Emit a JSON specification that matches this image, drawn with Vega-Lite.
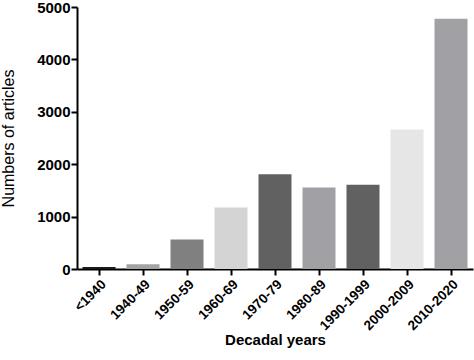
{
  "$schema": "https://vega.github.io/schema/vega-lite/v6.json",
  "width": 396,
  "height": 262,
  "autosize": {"type": "none"},
  "padding": {"left": 77, "top": 7, "right": 1, "bottom": 91},
  "background": "white",
  "config": {
    "view": {"stroke": null},
    "font": "Liberation Sans"
  },
  "data": {
    "values": [
      {"decade": "<1940", "articles": 40},
      {"decade": "1940-49", "articles": 90},
      {"decade": "1950-59", "articles": 565},
      {"decade": "1960-69", "articles": 1173},
      {"decade": "1970-79", "articles": 1806},
      {"decade": "1980-89", "articles": 1553},
      {"decade": "1990-1999", "articles": 1610},
      {"decade": "2000-2009", "articles": 2662},
      {"decade": "2010-2020", "articles": 4778}
    ]
  },
  "mark": {"type": "bar"},
  "encoding": {
    "x": {
      "field": "decade",
      "type": "nominal",
      "sort": null,
      "scale": {"paddingInner": 0.25, "paddingOuter": 0.125},
      "axis": {
        "title": "Decadal years",
        "titleFont": "Liberation Sans",
        "titleFontSize": 15,
        "titleFontWeight": "bold",
        "titleColor": "black",
        "titleY": 63,
        "titleBaseline": "top",
        "labelAngle": -45,
        "labelFont": "Liberation Sans",
        "labelFontSize": 13.5,
        "labelFontWeight": "bold",
        "labelColor": "black",
        "labelPadding": 2,
        "domainColor": "black",
        "domainWidth": 2,
        "tickColor": "black",
        "tickWidth": 2,
        "tickSize": 6,
        "grid": false
      }
    },
    "y": {
      "field": "articles",
      "type": "quantitative",
      "scale": {"domain": [0, 5000], "nice": false},
      "axis": {
        "title": "Numbers of articles",
        "titleFont": "Liberation Sans",
        "titleFontSize": 16,
        "titleFontWeight": "normal",
        "titleColor": "black",
        "titleX": -61,
        "titleBaseline": "bottom",
        "values": [0, 1000, 2000, 3000, 4000, 5000],
        "format": "d",
        "labelFont": "Liberation Sans",
        "labelFontSize": 15,
        "labelFontWeight": "bold",
        "labelColor": "black",
        "labelPadding": 1,
        "domainColor": "black",
        "domainWidth": 2,
        "tickColor": "black",
        "tickWidth": 2,
        "tickSize": 6,
        "grid": false
      }
    },
    "color": {
      "field": "decade",
      "type": "nominal",
      "legend": null,
      "scale": {
        "domain": ["<1940", "1940-49", "1950-59", "1960-69", "1970-79", "1980-89", "1990-1999", "2000-2009", "2010-2020"],
        "range": ["#1a1a1a", "#a3a3a3", "#808080", "#d4d4d4", "#616161", "#a1a1a5", "#616161", "#e6e6e6", "#a1a1a5"]
      }
    }
  }
}
